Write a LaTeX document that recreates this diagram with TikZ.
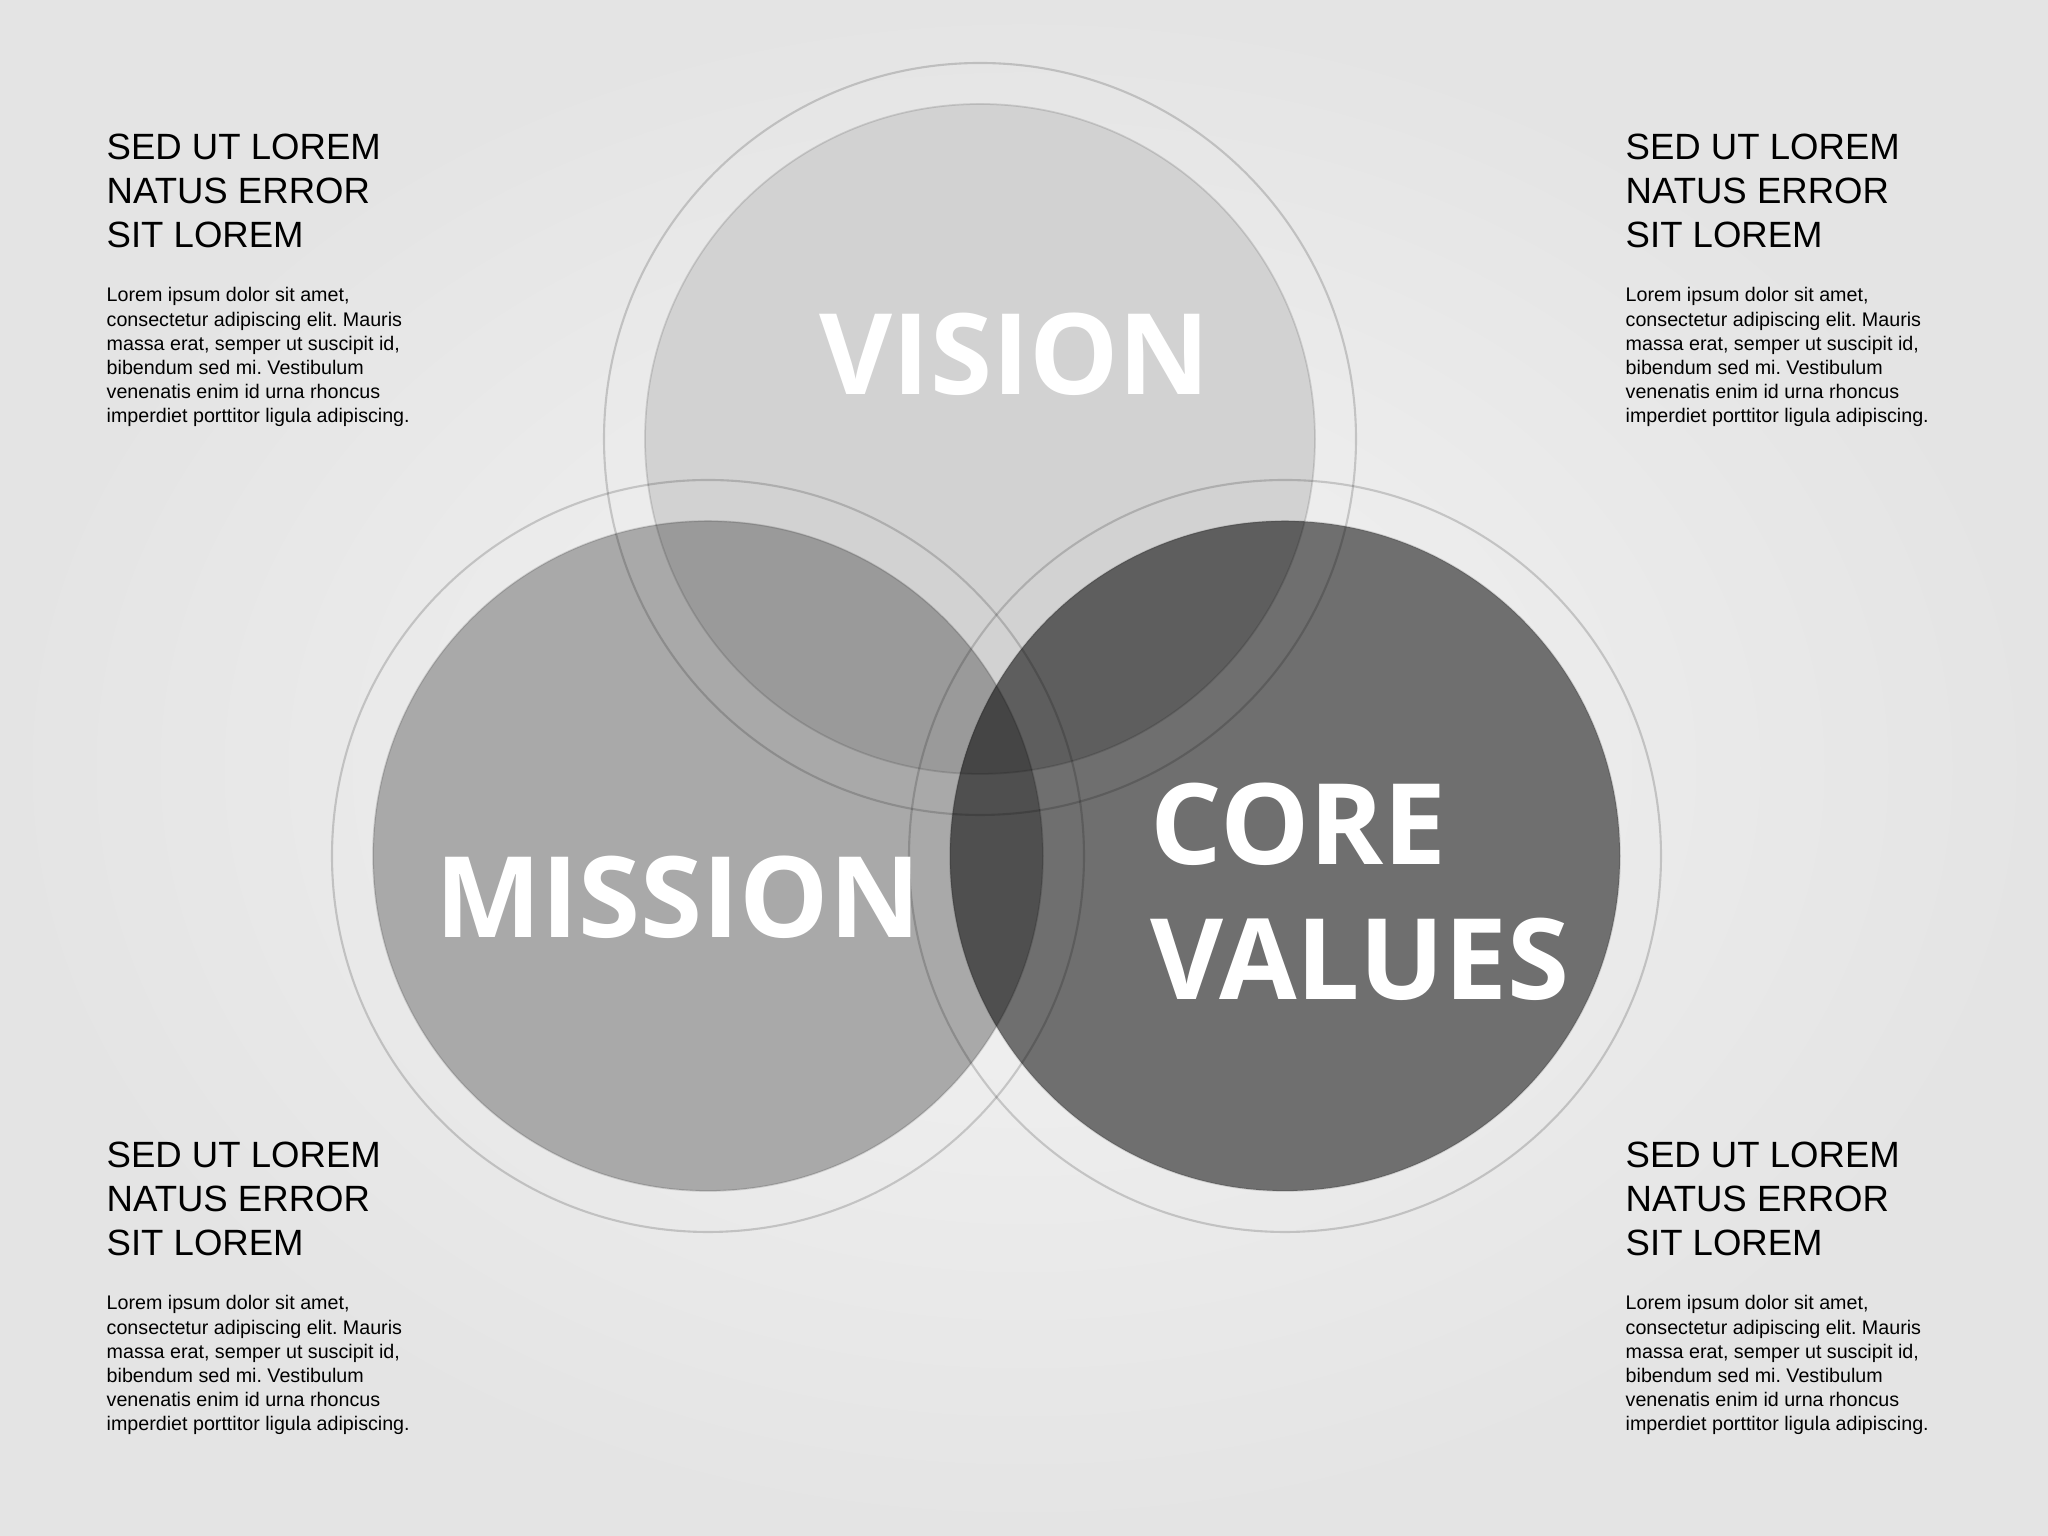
\documentclass[tikz,border=0pt]{standalone}
\usepackage{fontspec}
\setmainfont{Liberation Sans}
\newfontfamily\labelfont{Open Sans}
\usepackage{xcolor}
\usepackage{tikz}
\usetikzlibrary{positioning, backgrounds}
\frenchspacing

\definecolor{paperin}{HTML}{F4F4F4}
\definecolor{paperout}{HTML}{E4E4E4}
\definecolor{visionfill}{HTML}{D2D2D2}
\definecolor{missionfill}{HTML}{A9A9A9}
\definecolor{corefill}{HTML}{6F6F6F}
\definecolor{vmfill}{HTML}{9A9A9A}
\definecolor{vcfill}{HTML}{5E5E5E}
\definecolor{mcfill}{HTML}{4F4F4F}
\definecolor{vmcfill}{HTML}{454545}

\begin{document}
\begin{tikzpicture}[
    x=1cm, y=1cm,
    ring style/.style={draw=black, draw opacity=0.17, line width=0.6pt},
    edge style/.style={draw=black, draw opacity=0.12, line width=0.5pt},
    big label/.style={text=white, inner sep=0pt, font=\labelfont\bfseries\fontsize{32}{38.5}\selectfont},
    head text/.style={anchor=north west, inner sep=0pt, align=left, font=\fontsize{10.4}{12.5}\selectfont},
    body text/.style={anchor=north west, inner sep=0pt, align=left, font=\fontsize{5.6}{6.85}\selectfont}
]

    % Page and background
    \useasboundingbox (0,0) rectangle (20.48,15.36);
    \shade[inner color=paperin, outer color=paperout] (0,0) rectangle (20.48,15.36);

    % --- CIRCLES ---
    \def\rin{3.35}
    \def\rout{3.76}
    \coordinate (vision) at (9.80,10.97);
    \coordinate (mission) at (7.08,6.80);
    \coordinate (core) at (12.85,6.80);

    % single regions
    \fill[visionfill] (vision) circle (\rin);
    \fill[missionfill] (mission) circle (\rin);
    \fill[corefill] (core) circle (\rin);

    % overlaps
    \begin{scope}
        \clip (vision) circle (\rin);
        \fill[vmfill] (mission) circle (\rin);
        \fill[vcfill] (core) circle (\rin);
    \end{scope}
    \begin{scope}
        \clip (mission) circle (\rin);
        \fill[mcfill] (core) circle (\rin);
        \clip (vision) circle (\rin);
        \fill[vmcfill] (core) circle (\rin);
    \end{scope}

    % inner edges and outer rings
    \foreach \c in {vision, mission, core} {
        \draw[edge style] (\c) circle (\rin);
        \draw[ring style] (\c) circle (\rout);
    }

    % --- LABELS ---
    \node[big label] (visionlabel) at (10.15,11.82) {VISION};
    \node[big label] (missionlabel) at (6.78,6.39) {MISSION};
    \node[big label, align=left, anchor=west] (corelabel) at (11.50,6.44) {CORE\\VALUES};

    % --- SIDE TEXTS ---
    \foreach \px/\hy/\by/\nm in {1.06/14.03/12.49/tl, 16.25/14.03/12.49/tr, 1.06/3.95/2.41/bl, 16.25/3.95/2.41/br} {
        \node[head text] (head\nm) at (\px,\hy) {SED UT LOREM\\NATUS ERROR\\SIT LOREM};
        \node[body text] (body\nm) at (\px,\by) {Lorem ipsum dolor sit amet,\\consectetur adipiscing elit. Mauris\\massa erat, semper ut suscipit id,\\bibendum sed mi. Vestibulum\\venenatis enim id urna rhoncus\\imperdiet porttitor ligula adipiscing.};
    }

\end{tikzpicture}
\end{document}
